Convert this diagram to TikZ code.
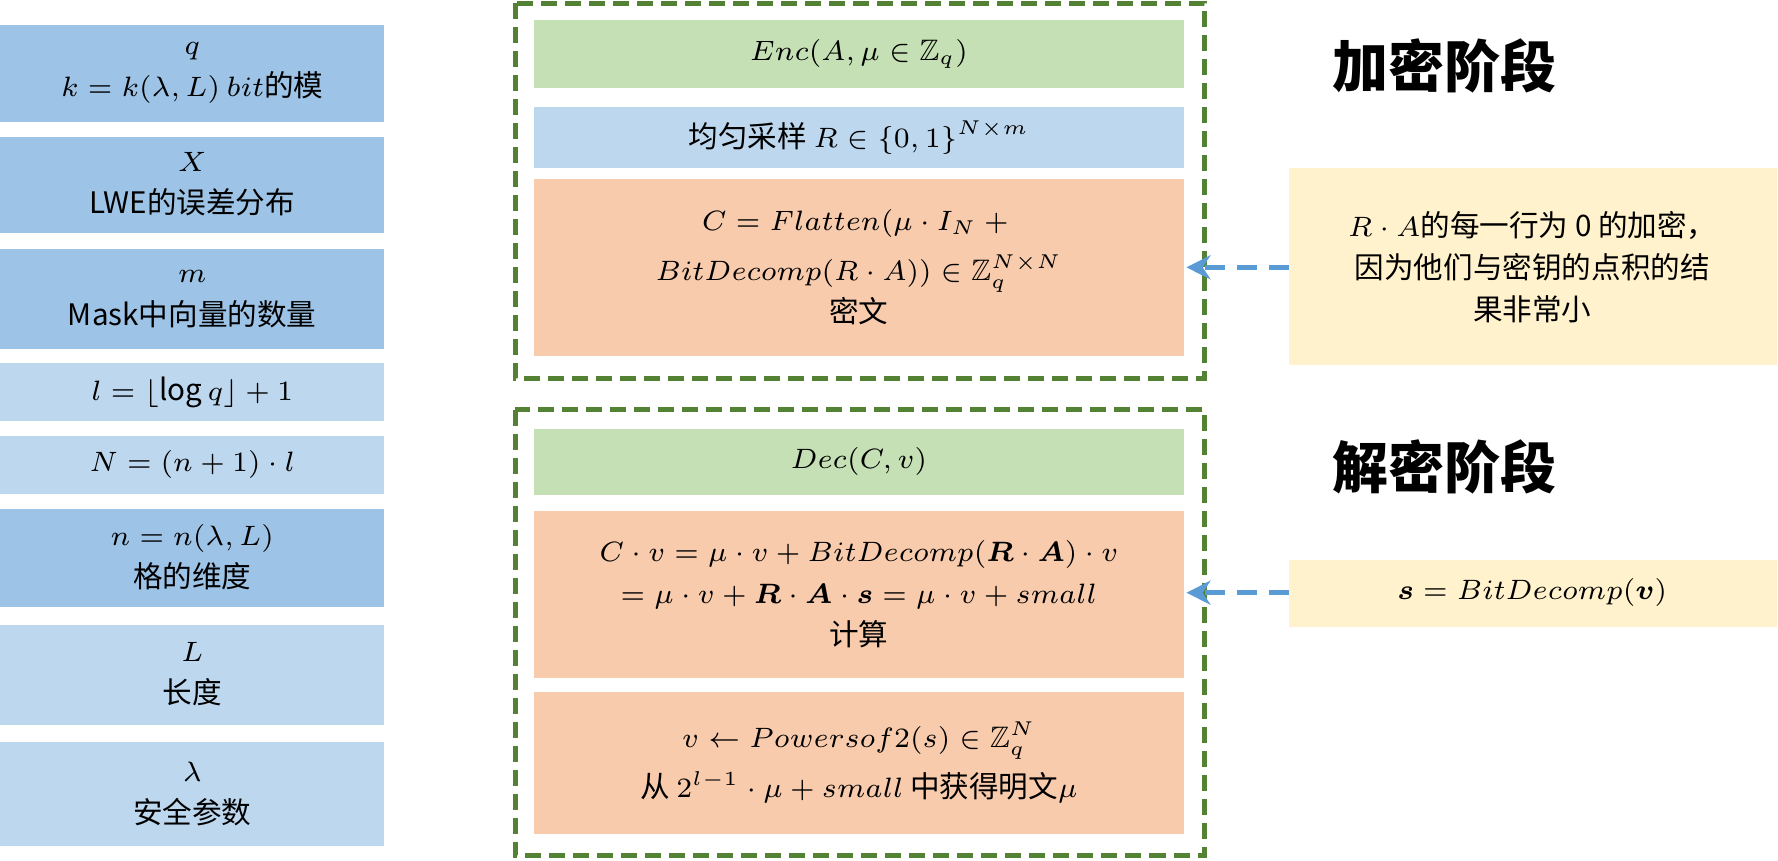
\documentclass[tikz,border=0pt]{standalone}
\usepackage{amsmath,amssymb,bm}
\usepackage{fontspec}
\setmainfont{Noto Sans CJK SC}
\usetikzlibrary{arrows.meta}
\newcommand\mn[1]{\mathnormal{#1}}
\begin{document}
\begin{tikzpicture}[x=0.01cm,y=-0.01cm,
  t/.style={font=\fontsize{7.4}{10.5}\selectfont,align=center},
  frame/.style={draw=frm,line width=1.2pt,dash pattern=on 4pt off 2pt},
  arr/.style={draw=arrc,line width=1.2pt,dash pattern=on 5pt off 3pt,-{Stealth[length=6pt,width=6pt]}}]
\definecolor{dkb}{HTML}{9DC3E6}\definecolor{ltb}{HTML}{BDD7EE}
\definecolor{grn}{HTML}{C5E0B4}\definecolor{org}{HTML}{F8CBAD}
\definecolor{ylw}{HTML}{FFF2CC}\definecolor{frm}{HTML}{548235}\definecolor{arrc}{HTML}{5B9BD5}
\useasboundingbox (0,0) rectangle (1563,756);
% left column
\fill[dkb] (0,22) rectangle (338,107); \node[t] (l1) at (169,64) {$q$\\$k=k(\lambda,L)\ \mn{bit}$的模};
\fill[dkb] (0,120) rectangle (338,205); \node[t] (l2) at (169,162) {$X$\\LWE的误差分布};
\fill[dkb] (0,219) rectangle (338,307); \node[t] (l3) at (169,263) {$m$\\Mask中向量的数量};
\fill[ltb] (0,319) rectangle (338,370); \node[t] (l4) at (169,345) {$l=\lfloor\log q\rfloor+1$};
\fill[ltb] (0,383) rectangle (338,434); \node[t] (l5) at (169,408) {$N=(n+1)\cdot l$};
\fill[dkb] (0,447) rectangle (338,534); \node[t] (l6) at (169,490) {$n=n(\lambda,L)$\\格的维度};
\fill[ltb] (0,549) rectangle (338,637); \node[t] (l7) at (169,593) {$L$\\长度};
\fill[ltb] (0,652) rectangle (338,744); \node[t] (l8) at (169,698) {$\lambda$\\安全参数};
% frames
\draw[frame] (453,3) rectangle (1059,333);
\draw[frame] (453,360) rectangle (1059,752);
% encryption
\fill[grn] (469,18) rectangle (1041,77); \node[t] (enc) at (755,47) {$\mn{Enc}(A,\mu\in\mathbb{Z}_q)$};
\fill[ltb] (469,94) rectangle (1041,148); \node[t] (smp) at (755,121) {均匀采样 $R\in\{0,1\}^{N\times m}$};
\fill[org] (469,157) rectangle (1041,313); \node[t] (cb) at (755,235) {$C=\mn{Flatten}(\mu\cdot I_N+{}$\\[2pt]$\mn{BitDecomp}(R\cdot A))\in\mathbb{Z}_q^{N\times N}$\\密文};
\coordinate (ce) at (1043,235);
% decryption
\fill[grn] (469,377) rectangle (1041,435); \node[t] (dec) at (755,406) {$\mn{Dec}(C,v)$};
\fill[org] (469,449) rectangle (1041,596); \node[t] (cv) at (755,522) {$C\cdot v=\mu\cdot v+\mn{BitDecomp}(\bm{R}\cdot\bm{A})\cdot v$\\$=\mu\cdot v+\bm{R}\cdot\bm{A}\cdot\bm{s}=\mu\cdot v+\mn{small}$\\计算};
\coordinate (cve) at (1043,521);
\fill[org] (469,608) rectangle (1041,733); \node[t] (vb) at (755,670) {$v\leftarrow\mn{Powersof}2(s)\in\mathbb{Z}_q^{N}$\\[2pt]从 $2^{l-1}\cdot\mu+\mn{small}$ 中获得明文$\mu$};
% headings
\node[font=\fontsize{14}{16}\selectfont\bfseries] (h1) at (1270,58) {加密阶段};
\node[font=\fontsize{14}{16}\selectfont\bfseries] (h2) at (1270,410) {解密阶段};
% notes
\fill[ylw] (1133,148) rectangle (1562,321); \node[t] (n1) at (1347,235) {$R\cdot A$的每一行为 0 的加密，\\因为他们与密钥的点积的结\\果非常小};
\fill[ylw] (1133,492) rectangle (1562,551); \node[t] (n2) at (1347,521) {$\bm{s}=\mn{BitDecomp}(\bm{v})$};
\coordinate (n1w) at (1133,235); \coordinate (n2w) at (1133,521);
\draw[arr] (n1w) -- (ce);
\draw[arr] (n2w) -- (cve);
\end{tikzpicture}
\end{document}
